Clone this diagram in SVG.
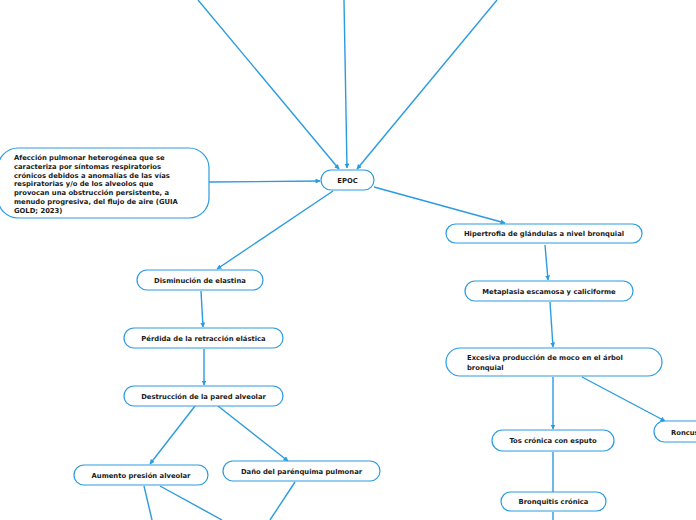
<svg xmlns="http://www.w3.org/2000/svg" width="696" height="520" viewBox="0 0 696 520">
<defs>
<style>
.n{fill:#fff;stroke:#2b9be0;stroke-width:1.2}
.c{fill:none;stroke:#2b9be0;stroke-width:1.4}
.t{font-family:"DejaVu Sans",Verdana,sans-serif;font-weight:bold;font-size:6.8px;fill:#1a1a1a}
.m{text-anchor:middle}
</style>
<marker id="a" viewBox="0 0 10 10" refX="9" refY="5" markerWidth="5" markerHeight="5" orient="auto" markerUnits="userSpaceOnUse">
<path d="M0,0 L10,5 L0,10 z" fill="#2b9be0"/>
</marker>
</defs>
<rect width="696" height="520" fill="#fff"/>
<g id="connectors">
<line class="c" x1="198" y1="0" x2="339" y2="169" marker-end="url(#a)"/>
<line class="c" x1="344" y1="0" x2="347" y2="168" marker-end="url(#a)"/>
<line class="c" x1="497" y1="0" x2="357" y2="169" marker-end="url(#a)"/>
<line class="c" x1="209" y1="182" x2="320" y2="181" marker-end="url(#a)"/>
<line class="c" x1="374" y1="187" x2="505" y2="223" marker-end="url(#a)"/>
<line class="c" x1="545" y1="245" x2="548" y2="280" marker-end="url(#a)"/>
<line class="c" x1="550" y1="302" x2="553" y2="347" marker-end="url(#a)"/>
<line class="c" x1="553" y1="377" x2="553" y2="429" marker-end="url(#a)"/>
<line class="c" x1="582" y1="377" x2="665" y2="421" marker-end="url(#a)"/>
<line class="c" x1="553" y1="452" x2="553" y2="492"/>
<line class="c" x1="553" y1="512" x2="553" y2="520"/>
<line class="c" x1="333" y1="191" x2="217" y2="269" marker-end="url(#a)"/>
<line class="c" x1="201" y1="291" x2="203" y2="327" marker-end="url(#a)"/>
<line class="c" x1="204" y1="349" x2="204" y2="385" marker-end="url(#a)"/>
<line class="c" x1="195" y1="406" x2="150" y2="464" marker-end="url(#a)"/>
<line class="c" x1="218" y1="406" x2="288" y2="461" marker-end="url(#a)"/>
<line class="c" x1="144" y1="486" x2="152" y2="520"/>
<line class="c" x1="160" y1="486" x2="222" y2="520"/>
<line class="c" x1="295" y1="482" x2="270" y2="520"/>
</g>
<g id="epoc"><rect class="n" x="321" y="170" width="53" height="20" rx="10"/><text class="t m" x="347.5" y="182.5">EPOC</text></g>
<g id="def"><rect class="n" x="-2" y="148" width="211" height="70" rx="20"/>
<text class="t" x="14" y="160">Afección pulmonar heterogénea que se</text>
<text class="t" x="14" y="168.8">caracteriza por síntomas respiratorios</text>
<text class="t" x="14" y="177.6">crónicos debidos a anomalías de las vías</text>
<text class="t" x="14" y="186.4">respiratorias y/o de los alveolos que</text>
<text class="t" x="14" y="195.2">provocan una obstrucción persistente, a</text>
<text class="t" x="14" y="204">menudo progresiva, del flujo de aire (GUIA</text>
<text class="t" x="14" y="212.8">GOLD; 2023)</text>
</g>
<g id="hip"><rect class="n" x="446" y="224" width="196" height="19" rx="9.5"/><text class="t m" x="544" y="236">Hipertrofia de glándulas a nivel bronquial</text></g>
<g id="meta"><rect class="n" x="465" y="281" width="168" height="20" rx="10"/><text class="t m" x="549" y="293.5">Metaplasia escamosa y caliciforme</text></g>
<g id="exc"><rect class="n" x="446" y="348" width="216" height="28" rx="14"/>
<text class="t" x="467" y="360">Excesiva producción de moco en el árbol</text>
<text class="t" x="467" y="369.5">bronquial</text></g>
<g id="tos"><rect class="n" x="492" y="430" width="122" height="21" rx="10.5"/><text class="t m" x="553" y="443">Tos crónica con esputo</text></g>
<g id="ron"><rect class="n" x="654" y="421" width="60" height="21" rx="10.5"/><text class="t" x="671" y="434.5">Roncus</text></g>
<g id="bron"><rect class="n" x="501" y="492" width="105" height="19" rx="9.5"/><text class="t m" x="553.5" y="504">Bronquitis crónica</text></g>
<g id="dis"><rect class="n" x="137" y="270" width="126" height="20" rx="10"/><text class="t m" x="200" y="282.5">Disminución de elastina</text></g>
<g id="per"><rect class="n" x="124" y="328" width="159" height="20" rx="10"/><text class="t m" x="203.5" y="340.5">Pérdida de la retracción elástica</text></g>
<g id="des"><rect class="n" x="124" y="386" width="159" height="20" rx="10"/><text class="t m" x="203.5" y="398.5">Destrucción de la pared alveolar</text></g>
<g id="aum"><rect class="n" x="74" y="465" width="134" height="20" rx="10"/><text class="t m" x="141" y="477.5">Aumento presión alveolar</text></g>
<g id="dan"><rect class="n" x="223" y="461" width="157" height="20" rx="10"/><text class="t m" x="301.5" y="473.5">Daño del parénquima pulmonar</text></g>
</svg>
